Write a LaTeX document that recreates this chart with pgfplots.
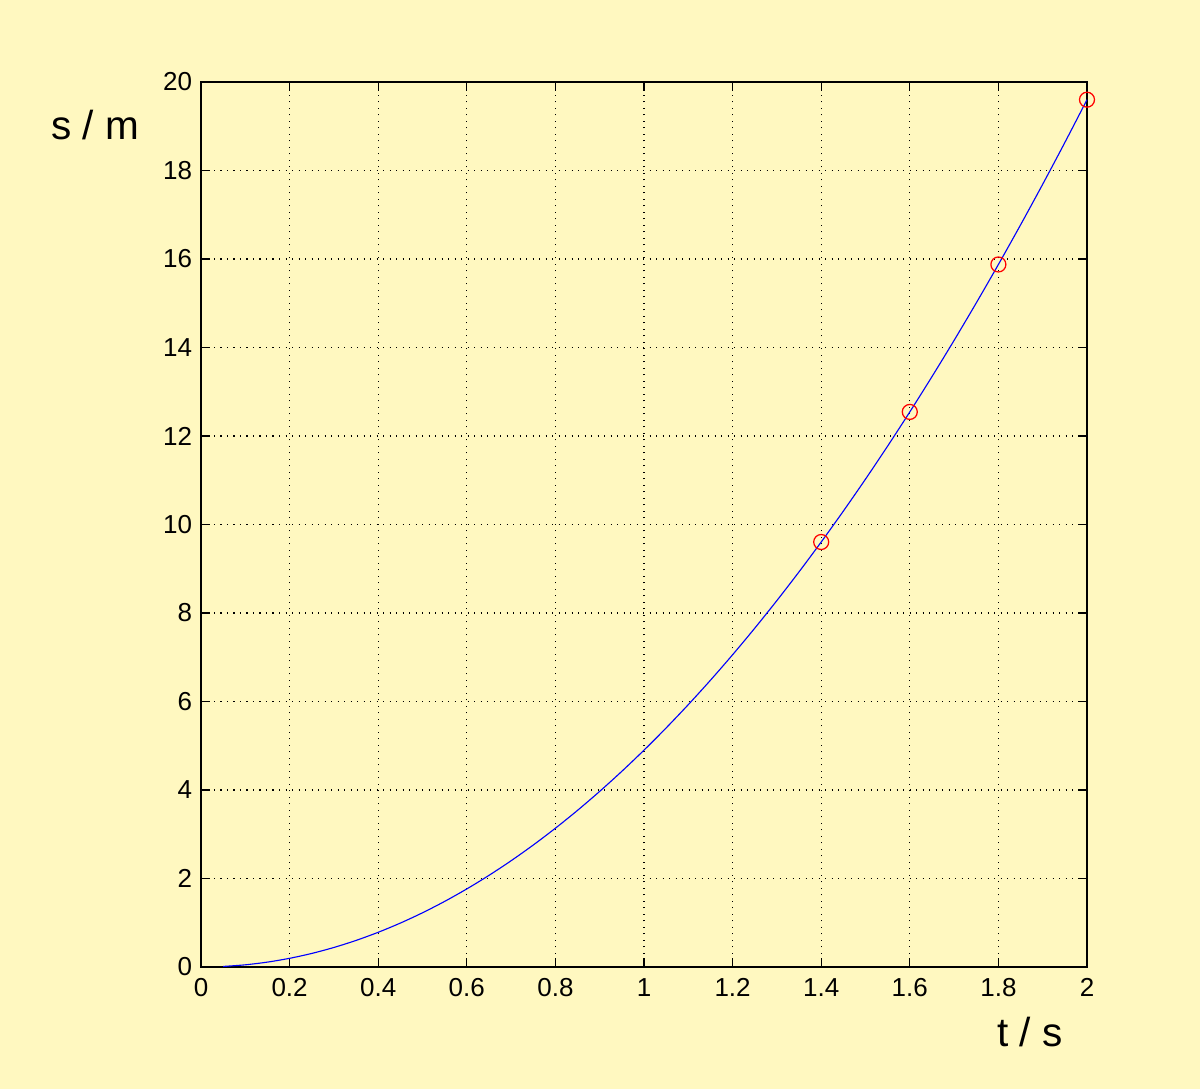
\documentclass[border=0pt]{standalone}
\usepackage{pgfplots}
\pgfplotsset{compat=1.18}
\usepackage{fontspec}
\setmainfont{Liberation Sans}
\definecolor{bg}{RGB}{255,248,192}
\begin{document}
\begin{tikzpicture}
\fill[bg] (-80.4pt,-48.8pt) rectangle (399.6pt,386.8pt);
\begin{axis}[
  scale only axis,
  width=354.4pt, height=354pt,
  xmin=0, xmax=2, ymin=0, ymax=20,
  xtick={0,0.2,...,2.0}, ytick={0,2,...,20},
  xticklabels={0,0.2,0.4,0.6,0.8,1,1.2,1.4,1.6,1.8,2},
  yticklabels={0,2,4,6,8,10,12,14,16,18,20},
  tick align=inside,
  major tick length=3.6pt,
  tick style={black, line width=0.5pt},
  axis line style={black, line width=0.6pt},
  grid=major,
  grid style={black, line width=0.5pt, dash pattern=on 0.5pt off 2.1pt},
  ticklabel style={font=\fontsize{10.4}{12}\selectfont},
  xticklabel style={yshift=-1pt},
  /pgf/number format/assume math mode=true,
  axis background/.style={fill=bg},
  clip=false,
]
\addplot[blue, line width=0.45pt, no markers, smooth] coordinates {
(0.05,0.01225)(0.1,0.049)(0.15,0.11025)(0.2,0.196)(0.25,0.30625)(0.3,0.441)
(0.35,0.60025)(0.4,0.784)(0.45,0.99225)(0.5,1.225)(0.55,1.48225)(0.6,1.764)
(0.65,2.07025)(0.7,2.401)(0.75,2.75625)(0.8,3.136)(0.85,3.54025)(0.9,3.969)
(0.95,4.42225)(1.0,4.9)(1.05,5.40225)(1.1,5.929)(1.15,6.48025)(1.2,7.056)
(1.25,7.65625)(1.3,8.281)(1.35,8.93025)(1.4,9.604)(1.45,10.30225)(1.5,11.025)
(1.55,11.77225)(1.6,12.544)(1.65,13.34025)(1.7,14.161)(1.75,15.00625)(1.8,15.876)
(1.85,16.77025)(1.9,17.689)(1.95,18.63225)(2.0,19.6)
};
\addplot[only marks, red, mark=o, mark size=3pt, mark options={line width=0.5pt}] coordinates {
(1.4,9.604)(1.6,12.544)(1.8,15.876)(2.0,19.6)
};
\end{axis}
\node[font=\fontsize{16.2}{19}\selectfont] at (-42.4pt,336.8pt) {s / m};
\node[font=\fontsize{16.2}{19}\selectfont] at (331.6pt,-26pt) {t / s};
\end{tikzpicture}
\end{document}
